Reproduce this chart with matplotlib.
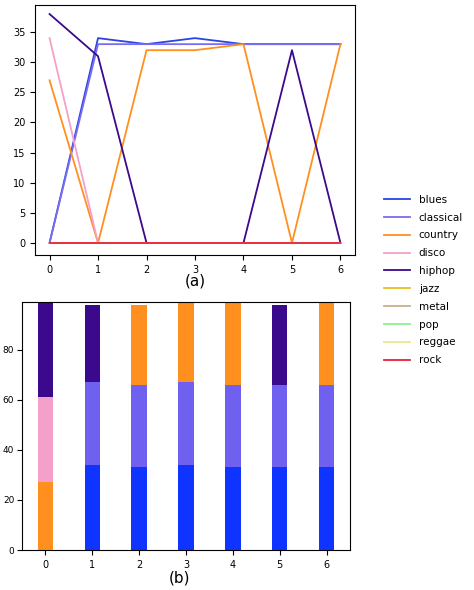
import matplotlib
matplotlib.use("Agg")
import matplotlib.pyplot as plt
import numpy as np

x = [0, 1, 2, 3, 4, 5, 6]
genres = ["blues", "classical", "country", "disco", "hiphop", "jazz", "metal", "pop", "reggae", "rock"]
blues = [0, 34, 33, 34, 33, 33, 33]
classical = [0, 33, 33, 33, 33, 33, 33]
country = [27, 0, 32, 32, 33, 0, 33]
disco = [34, 0, 0, 0, 0, 0, 0]
hiphop = [38, 31, 0, 0, 0, 32, 0]
jazz = [0, 0, 0, 0, 0, 0, 0]
metal = [0, 0, 0, 0, 0, 0, 0]
pop = [0, 0, 0, 0, 0, 0, 0]
reggae = [0, 0, 0, 0, 0, 0, 0]
rock = [0, 0, 0, 0, 0, 0, 0]
series = [blues, classical, country, disco, hiphop, jazz, metal, pop, reggae, rock]
colors = ["#2a45e0", "#7a6cf0", "#ff9020", "#f4a0c8", "#3b0a8c",
          "#e8c020", "#c8b090", "#90ee90", "#e8e890", "#e8203a"]
bar_colors = ["#1034ff", "#7060f0", "#ff9020", "#f4a0c8", "#3b0a8c",
              "#e8c020", "#c8b090", "#90ee90", "#e8e890", "#e8203a"]

fig = plt.figure(figsize=(4.74, 5.9), dpi=100)
ax1 = fig.add_axes([35/474, 1-255/590, 320/474, 250/590])
ax2 = fig.add_axes([22/474, 1-550/590, 328/474, 248/590])

handles = []
for name, s, c in zip(genres, series, colors):
    h, = ax1.plot(x, s, color=c, lw=1.3, label=name)
    handles.append(h)
ax1.set_xlim(-0.3, 6.3)
ax1.set_ylim(-2, 39.5)
ax1.set_yticks([0, 5, 10, 15, 20, 25, 30, 35])

bottom = np.zeros(len(x))
for name, s, c in zip(genres, series, bar_colors):
    ax2.bar(x, s, bottom=bottom, width=0.33, color=c)
    bottom += np.array(s)
ax2.set_xlim(-0.5, 6.5)
ax2.set_ylim(0, 99)
ax2.set_yticks([0, 20, 40, 60, 80])

for ax in (ax1, ax2):
    ax.tick_params(labelsize=7)
    ax.set_xticks(x)
ax2.tick_params(axis="y", pad=2, labelsize=6.5)

fig.text(195/474, 1-281/590, "(a)", ha="center", va="center", fontsize=11)
fig.text(179/474, 1-578/590, "(b)", ha="center", va="center", fontsize=11)
fig.legend(handles=handles, labels=genres, loc="center left",
           bbox_to_anchor=(375/474, 1-280/590), frameon=False, fontsize=7.5,
           handlelength=2.5, labelspacing=0.75)
fig.savefig("out.png", dpi=100)
